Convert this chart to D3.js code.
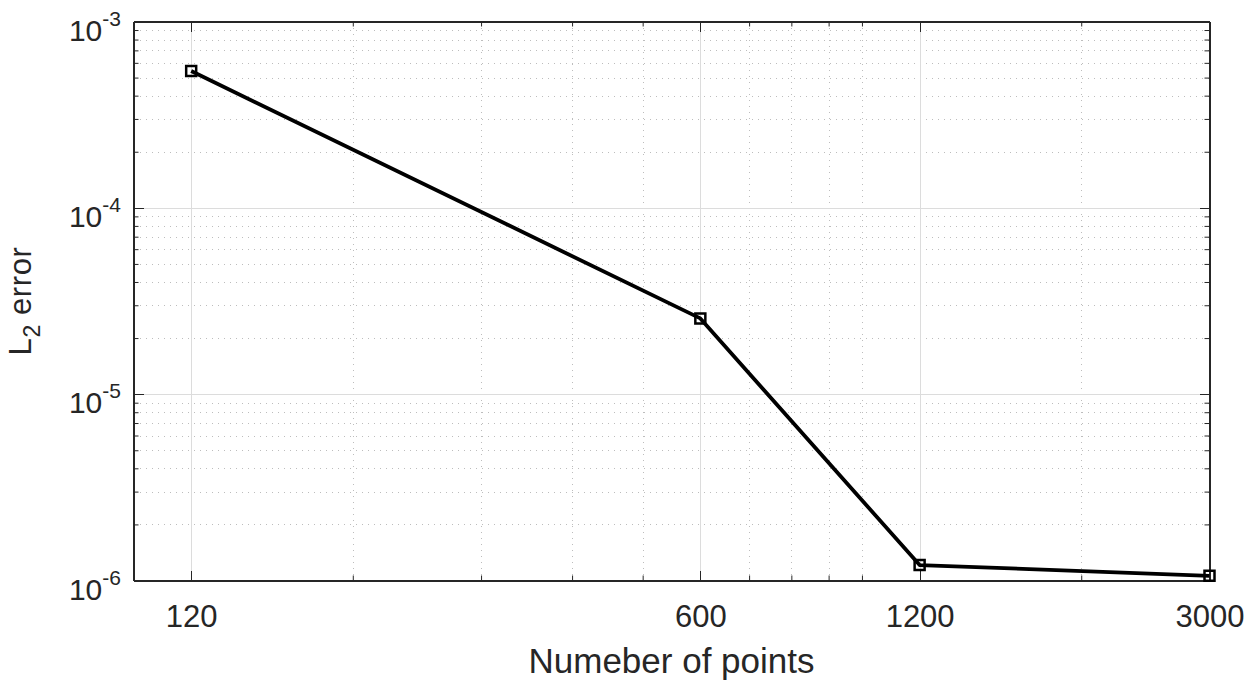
<!DOCTYPE html>
<html>
<head>
<meta charset="utf-8">
<script src="https://cdn.jsdelivr.net/npm/d3@7"></script>
<style>
  body { margin: 0; background: #fff; }
  text { font-family: "Liberation Sans", Arial, Helvetica, sans-serif; fill: #262626; }
</style>
</head>
<body>
<svg id="chart" width="1250" height="685"></svg>
<script>
// data
const nPoints = [120, 600, 1200, 3000];
const l2Error = [5.42e-4, 2.55e-5, 1.21e-6, 1.06e-6];
const xTickValues = [120, 600, 1200, 3000];
const yTickExponents = [-6, -5, -4, -3];
const xDomain = [100, 3000];
const yDomain = [1e-6, 1e-3];
const xLabel = "Numeber of points";

const svg = d3.select("#chart");
const box = { left: 133.5, right: 1209.5, top: 21.5, bottom: 580.5 };
const axisColor = "#262626";

const x = d3.scaleLog().domain(xDomain).range([box.left, box.right]);
const y = d3.scaleLog().domain(yDomain).range([box.bottom, box.top]);

const yTickValues = yTickExponents.map(e => Math.pow(10, e));
const isDecade = v => Math.abs(Math.log10(v) - Math.round(Math.log10(v))) < 1e-9;
const xMinor = x.ticks().filter(v => !xTickValues.includes(v) && v > xDomain[0] && v < xDomain[1]);
const yMinor = y.ticks().filter(v => !isDecade(v));

// grid: minor dotted, major solid (MATLAB-like)
const grid = svg.append("g").attr("shape-rendering", "crispEdges");
grid.selectAll(".xminor").data(xMinor).join("line")
  .attr("x1", d => Math.round(x(d)) + 0.5).attr("x2", d => Math.round(x(d)) + 0.5)
  .attr("y1", box.top).attr("y2", box.bottom)
  .attr("stroke", "#bdbdbd").attr("stroke-dasharray", "1.5,4.5");
grid.selectAll(".yminor").data(yMinor).join("line")
  .attr("y1", d => Math.round(y(d)) + 0.5).attr("y2", d => Math.round(y(d)) + 0.5)
  .attr("x1", box.left).attr("x2", box.right)
  .attr("stroke", "#bdbdbd").attr("stroke-dasharray", "1.5,4.5");
grid.selectAll(".xmajor").data(xTickValues).join("line")
  .attr("x1", d => Math.round(x(d)) + 0.5).attr("x2", d => Math.round(x(d)) + 0.5)
  .attr("y1", box.top).attr("y2", box.bottom)
  .attr("stroke", "#dcdcdc");
grid.selectAll(".ymajor").data(yTickValues).join("line")
  .attr("y1", d => Math.round(y(d)) + 0.5).attr("y2", d => Math.round(y(d)) + 0.5)
  .attr("x1", box.left).attr("x2", box.right)
  .attr("stroke", "#dcdcdc");

// axes on all four sides, ticks pointing inward
function styleAxis(g) {
  g.attr("color", axisColor).attr("shape-rendering", "crispEdges");
  g.select(".domain").attr("stroke-width", 1.2);
  return g;
}

const bottom = svg.append("g").attr("transform", `translate(0,${box.bottom})`)
  .call(d3.axisBottom(x).tickValues(xTickValues).tickSizeInner(-10).tickSizeOuter(0)
    .tickPadding(24).tickFormat(d3.format("d")))
  .call(styleAxis);
bottom.selectAll("text")
  .attr("font-family", null).attr("font-size", 31).attr("fill", axisColor);
bottom.attr("font-family", null).attr("font-size", null);

svg.append("g").attr("transform", `translate(0,${box.bottom})`)
  .call(d3.axisBottom(x).tickValues(xMinor).tickSize(-5).tickFormat(""))
  .call(g => g.select(".domain").remove())
  .attr("color", axisColor);

svg.append("g").attr("transform", `translate(0,${box.top})`)
  .call(d3.axisTop(x).tickValues(xTickValues).tickSizeInner(-10).tickSizeOuter(0).tickFormat(""))
  .call(styleAxis);
svg.append("g").attr("transform", `translate(0,${box.top})`)
  .call(d3.axisTop(x).tickValues(xMinor).tickSize(-5).tickFormat(""))
  .call(g => g.select(".domain").remove())
  .attr("color", axisColor);

svg.append("g").attr("transform", `translate(${box.left},0)`)
  .call(d3.axisLeft(y).tickValues(yTickValues).tickSizeInner(-10).tickSizeOuter(0).tickFormat(""))
  .call(styleAxis);
svg.append("g").attr("transform", `translate(${box.left},0)`)
  .call(d3.axisLeft(y).tickValues(yMinor).tickSize(-5).tickFormat(""))
  .call(g => g.select(".domain").remove())
  .attr("color", axisColor);

svg.append("g").attr("transform", `translate(${box.right},0)`)
  .call(d3.axisRight(y).tickValues(yTickValues).tickSizeInner(-10).tickSizeOuter(0).tickFormat(""))
  .call(styleAxis);
svg.append("g").attr("transform", `translate(${box.right},0)`)
  .call(d3.axisRight(y).tickValues(yMinor).tickSize(-5).tickFormat(""))
  .call(g => g.select(".domain").remove())
  .attr("color", axisColor);

// y tick labels as 10 with superscript exponent
const yLabels = svg.append("g").selectAll("text").data(yTickExponents).join("text")
  .attr("x", 121)
  .attr("y", d => y(Math.pow(10, d)) + 19)
  .attr("text-anchor", "end");
yLabels.append("tspan").attr("font-size", 30).text("10");
yLabels.append("tspan").attr("font-size", 21).attr("dy", -15).text(d => d);

// axis labels
svg.append("text")
  .attr("x", (box.left + box.right) / 2)
  .attr("y", 673)
  .attr("text-anchor", "middle")
  .attr("font-size", 35)
  .text(xLabel);

const yl = svg.append("text")
  .attr("transform", `translate(31,${(box.top + box.bottom) / 2}) rotate(-90)`)
  .attr("text-anchor", "middle")
  .attr("font-size", 31)
  .attr("letter-spacing", 0.6);
yl.append("tspan").text("L");
yl.append("tspan").attr("font-size", 23).attr("dy", 9).text("2");
yl.append("tspan").attr("dy", -9).text(" error");

// data line and square markers
const series = nPoints.map((n, i) => ({ n, e: l2Error[i] }));
svg.append("path")
  .datum(series)
  .attr("fill", "none")
  .attr("stroke", "#000")
  .attr("stroke-width", 3.8)
  .attr("stroke-linejoin", "round")
  .attr("d", d3.line().x(d => x(d.n)).y(d => y(d.e)));

svg.append("g").selectAll("path").data(series).join("path")
  .attr("transform", d => `translate(${x(d.n)},${y(d.e)})`)
  .attr("d", d3.symbol(d3.symbolSquare, 100))
  .attr("fill", "none")
  .attr("stroke", "#000")
  .attr("stroke-width", 2.5);
</script>
</body>
</html>
